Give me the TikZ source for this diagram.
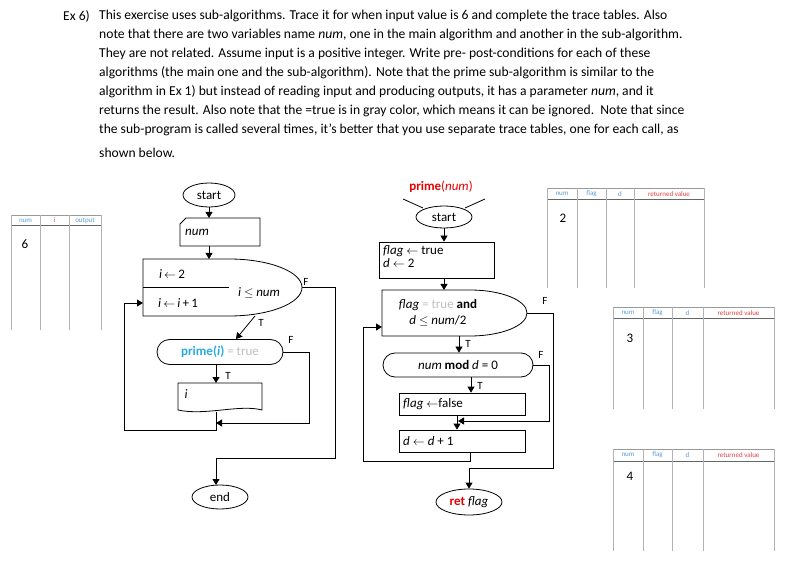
\documentclass[tikz,border=0pt]{standalone}
\usepackage{fontspec}
\setmainfont{Carlito}
\usetikzlibrary{arrows.meta,shapes.misc,shapes.geometric}
\definecolor{hdblue}{RGB}{91,155,213}
\definecolor{hdred}{RGB}{224,64,64}
\definecolor{cyanb}{RGB}{40,170,225}
\definecolor{lgray}{RGB}{190,190,190}
\definecolor{pred}{RGB}{230,0,0}
\begin{document}
\begin{tikzpicture}[x=1pt,y=-1pt,
  every node/.style={inner sep=0pt,font=\fontsize{13}{15}\selectfont},
  box/.style={draw,thick,minimum width=#1},
  term/.style={draw,thick,ellipse,inner sep=0pt},
  stad/.style={draw,thick,rounded rectangle,minimum height=25pt},
  arr/.style={thick,-{Triangle[length=6pt,width=7pt]}},
  ln/.style={thick},
  lab/.style={font=\fontsize{11}{13}\selectfont},
  txt/.style={anchor=west,font=\fontsize{13.6}{16}\selectfont},
  hd/.style={font=\fontsize{7}{8}\selectfont,text=hdblue},
  hdr/.style={font=\fontsize{7}{8}\selectfont,text=hdred},
  tline/.style={draw=black!30,line width=1pt}]
\useasboundingbox (0,0) rectangle (798,569);

% exercise text
\node[txt] (t0) at (63,16) {Ex 6)};
\node[txt] (t1) at (99,16) {This exercise uses sub-algorithms. Trace it for when input value is 6 and complete the trace tables. Also};
\node[txt] (t2) at (99,35) {note that there are two variables name \textit{num}, one in the main algorithm and another in the sub-algorithm.};
\node[txt] (t3) at (99,54) {They are not related. Assume input is a positive integer. Write pre- post-conditions for each of these};
\node[txt] (t4) at (99,73) {algorithms (the main one and the sub-algorithm). Note that the prime sub-algorithm is similar to the};
\node[txt] (t5) at (99,92) {algorithm in Ex 1) but instead of reading input and producing outputs, it has a parameter \textit{num}, and it};
\node[txt] (t6) at (99,111) {returns the result. Also note that the =true is in gray color, which means it can be ignored.\ \ Note that since};
\node[txt] (t7) at (99,130) {the sub-program is called several times, it’s better that you use separate trace tables, one for each call, as};
\node[txt] (t8) at (99,153) {shown below.};

% ---------- main algorithm ----------
\node[term,minimum width=52pt,minimum height=24pt] (start) at (209,195) {start};
\draw[ln] (186,218) -- (260,218) -- (260,246) -- (180,246) -- (180,224) -- cycle;
\coordinate (inT) at (209,218);
\coordinate (inB) at (209,246);
\node[anchor=west] (innum) at (185,232) {\textit{num}};
\draw[arr] (start) -- (inT);

\draw[ln] (229,259) -- (143,259) -- (143,316) -- (229,316)
  arc[start angle=-90,end angle=90,x radius=73pt,y radius=28.5pt] -- cycle;
\draw[ln] (143,287) -- (229,287);
\coordinate (loopT) at (209,259);
\coordinate (loopL) at (143,303);
\coordinate (loopR) at (302,287.5);
\coordinate (loopB) at (255,316);
\node (init) at (172,274) {\textit{i}\,$\leftarrow$\,2};
\node (incr) at (178,303) {\textit{i}\,$\leftarrow$\,\textit{i}\,+\,1};
\node (cond) at (259,293) {\textit{i} $\le$ \textit{num}};
\draw[arr] (inB) -- (loopT);

\node[stad,minimum width=126pt] (prime) at (220,352)
  {\textcolor{cyanb}{\textbf{prime(\textit{i})}} \textcolor{lgray}{= true}};
\draw[arr] (loopB) -- (236,339);
\node[lab] (t1lab) at (261,323) {T};

\draw[ln] (178,383) -- (262,383) -- (262,410)
  .. controls (240,404) and (205,416) .. (178,410) -- cycle;
\coordinate (docT) at (216,383);
\coordinate (docB) at (216,412);
\node (outi) at (186,394) {\textit{i}};
\draw[arr] (prime.south -| docT) -- (docT);
\node[lab] (t2lab) at (228,376) {T};

\coordinate (join1) at (216,423);
\draw[arr] (prime.east) -- (309,352) -- (309,423) -- (join1);
\node[lab] (f2lab) at (291,340) {F};
\draw[arr] (docB) -- (216,430) -- (124,430) -- (124,303) -- (loopL);

\node[term,minimum width=56pt,minimum height=24pt] (end) at (220,497) {end};
\coordinate (endT) at (216,485);
\draw[arr] (loopR) -- (335,287.5) -- (335,458) -- (216,458) -- (endT);
\node[lab] (f1lab) at (306,282) {F};

% ---------- sub-algorithm ----------
\node (ptitle) at (441,187) {\textcolor{pred}{\textbf{prime}(\textit{num})}};
\node[term,minimum width=56pt,minimum height=22pt] (pstart) at (444,217) {start};
\draw[ln] (403,199) -- (423,208);
\draw[ln] (485,199) -- (465,208);
\node[box=115pt,minimum height=36pt] (setb) at (436.5,260) {};
\node[anchor=north west,align=left] (settxt) at (383,245)
  {\textit{flag} $\leftarrow$ true\\[-2pt]\textit{d} $\leftarrow$ 2};
\draw[arr] (pstart) -- (setb.north -| pstart);

\draw[ln] (382,290) -- (470,290) arc[start angle=90,end angle=-90,x radius=57pt,y radius=23pt] -- (382,336) -- cycle;
\coordinate (wT) at (444,290);
\coordinate (wL) at (382,327);
\coordinate (wR) at (527,313);
\coordinate (wB) at (459,336);
\node (wt1) at (438,305) {\textit{flag} \textcolor{lgray}{= true} \textbf{and}};
\node (wt2) at (438,321) {\textit{d} $\le$ \textit{num}/2};
\draw[arr] (setb.south -| wT) -- (wT);

\node[stad,minimum width=150pt,minimum height=24pt] (mod) at (458,365)
  {\textit{num} \textbf{mod} \textit{d} = 0};
\draw[arr] (wB) -- (mod.north -| wB);
\node[lab] (t3lab) at (468,344) {T};

\node[box=126pt,minimum height=22pt,anchor=west] (fls) at (399,404) {};
\node[anchor=west] (flstxt) at (403,404) {\textit{flag} $\leftarrow$false};
\coordinate (m1) at (471,0);
\draw[arr] (mod.south -| m1) -- (fls.north -| m1);
\node[lab] (t4lab) at (480,386) {T};

\coordinate (join2) at (458,421);
\draw[arr] (mod.east) -- (549,365) -- (549,421) -- (join2);
\node[lab] (f4lab) at (541,355) {F};

\node[box=126pt,minimum height=22pt,anchor=west] (inc) at (399,441) {};
\node[anchor=west] (inctxt) at (403,441) {\textit{d} $\leftarrow$ \textit{d} + 1};
\coordinate (m2) at (457,0);
\coordinate (m3) at (470,0);
\draw[arr] (fls.south -| m2) -- (inc.north -| m2);
\draw[arr] (inc.south -| m3) -- (470,461) -- (363,461) -- (363,327) -- (wL);

\node[term,minimum width=66pt,minimum height=26pt] (ret) at (469,502)
  {\textcolor{pred}{\textbf{ret}} \textit{flag}};
\draw[arr] (wR) -- (553,313) -- (553,468) -- (469,468) -- (ret);
\node[lab] (f3lab) at (545,301) {F};

% ---------- trace tables ----------
% main
\draw[black!40,line width=0.6pt] (11,215) -- (101,215);
\draw[black!60,line width=1pt] (11,226) -- (101,226);
\foreach \c in {11,40,69,101} \draw[tline] (\c,215) -- (\c,330);
\node[hd] (h1) at (25.5,220.5) {num};
\node[hd,text=hdred] (h2) at (54.5,220.5) {i};
\node[hd] (h3) at (85,220.5) {output};
\node (v6) at (25,244) {6};

% prime(2)
\draw[black!40,line width=0.6pt] (547,188) -- (704,188);
\draw[black!60,line width=1pt] (547,200) -- (704,200);
\foreach \c in {547,577,606,634,704} \draw[tline] (\c,188) -- (\c,288);
\node[hd] (a1) at (562,194) {num};
\node[hd] (a2) at (591.5,194) {flag};
\node[hd] (a3) at (620,194) {d};
\node[hdr] (a4) at (669,194) {returned value};
\node (v2) at (563,218) {2};

% prime(3)
\draw[black!40,line width=0.6pt] (613,307) -- (774,307);
\draw[black!60,line width=1pt] (613,319) -- (774,319);
\foreach \c in {613,643,672,703,774} \draw[tline] (\c,307) -- (\c,409);
\node[hd] (b1) at (628,313) {num};
\node[hd] (b2) at (657.5,313) {flag};
\node[hd] (b3) at (687.5,313) {d};
\node[hdr] (b4) at (738.5,313) {returned value};
\node (v3) at (630,338) {3};

% prime(4)
\draw[black!40,line width=0.6pt] (613,449) -- (774,449);
\draw[black!60,line width=1pt] (613,461) -- (774,461);
\foreach \c in {613,643,672,703,774} \draw[tline] (\c,449) -- (\c,551);
\node[hd] (c1) at (628,455) {num};
\node[hd] (c2) at (657.5,455) {flag};
\node[hd] (c3) at (687.5,455) {d};
\node[hdr] (c4) at (738.5,455) {returned value};
\node (v4) at (630,476) {4};
\end{tikzpicture}
\end{document}
